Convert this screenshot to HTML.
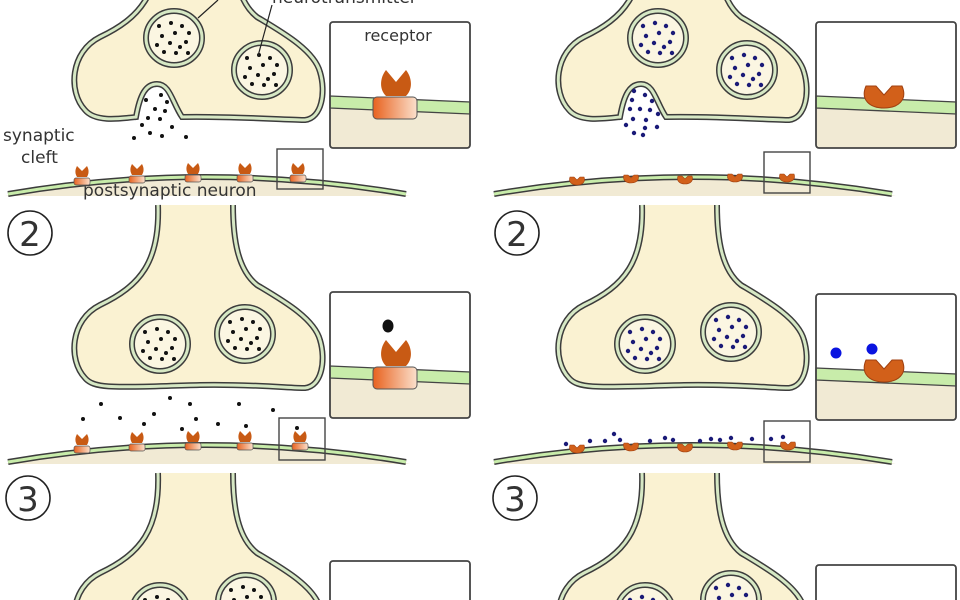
<!DOCTYPE html>
<html><head><meta charset="utf-8"><style>
html,body{margin:0;padding:0;background:#fff;width:960px;height:600px;overflow:hidden}
svg{display:block}
text{font-family:"DejaVu Sans","Liberation Sans",sans-serif;fill:#333}
</style></head><body>
<svg width="960" height="600" viewBox="0 0 960 600" xmlns="http://www.w3.org/2000/svg">
<defs>
<linearGradient id="og" x1="0" x2="1"><stop offset="0" stop-color="#e8621f"/><stop offset="1" stop-color="#fbe0cc"/></linearGradient>
<path id="term" d="M158,205 C160,262 140,286 100,305 C70,320 68,360 85,378 C95,390 120,387 200,385 C250,384 290,388 305,388 C322,386 326,360 320,340 C314,318 282,300 257,285 C238,270 233,240 233,205"/>
<path id="termN" d="M158,190 L158,205 C160,262 140,286 100,305 C70,320 68,360 85,378 C95,390 118,387 136,385 C140,362 146,352 157,352 C170,352 172,370 182,385 C230,384 290,388 305,388 C322,386 326,360 320,340 C314,318 282,300 257,285 C238,270 233,240 233,205 L233,190"/>
<g id="T"><use href="#term" fill="#faf2d2" stroke="#3c3c3c" stroke-width="6"/><use href="#term" fill="none" stroke="#d6e8c4" stroke-width="3"/></g>
<g id="TN"><use href="#termN" fill="#faf2d2" stroke="#3c3c3c" stroke-width="6"/><use href="#termN" fill="none" stroke="#d6e8c4" stroke-width="3"/></g>
<g id="ves"><ellipse rx="28" ry="27" fill="#fbf6e2" stroke="#3c3c3c" stroke-width="6"/><ellipse rx="28" ry="27" fill="none" stroke="#d6e8c4" stroke-width="3"/></g>
<g id="dk"><use href="#ves"/><g fill="#111"><circle cx="-15" cy="-12" r="2"/><circle cx="-3" cy="-15" r="2"/><circle cx="8" cy="-12" r="2"/><circle cx="15" cy="-5" r="2"/><circle cx="-12" cy="-2" r="2"/><circle cx="1" cy="-5" r="2"/><circle cx="12" cy="4" r="2"/><circle cx="-17" cy="7" r="2"/><circle cx="-4" cy="5" r="2"/><circle cx="6" cy="9" r="2"/><circle cx="-10" cy="14" r="2"/><circle cx="2" cy="15" r="2"/><circle cx="14" cy="15" r="2"/></g></g>
<g id="bl"><use href="#ves"/><g fill="#1a1a78"><circle cx="-15" cy="-12" r="2.2"/><circle cx="-3" cy="-15" r="2.2"/><circle cx="8" cy="-12" r="2.2"/><circle cx="15" cy="-5" r="2.2"/><circle cx="-12" cy="-2" r="2.2"/><circle cx="1" cy="-5" r="2.2"/><circle cx="12" cy="4" r="2.2"/><circle cx="-17" cy="7" r="2.2"/><circle cx="-4" cy="5" r="2.2"/><circle cx="6" cy="9" r="2.2"/><circle cx="-10" cy="14" r="2.2"/><circle cx="2" cy="15" r="2.2"/><circle cx="14" cy="15" r="2.2"/></g></g>
<g id="post"><path d="M5,198 Q205,160 410,198 Z" fill="#f1ead4"/><path d="M8,196 Q205,162 406,196" fill="none" stroke="#3c3c3c" stroke-width="6"/><path d="M8,196 Q205,162 406,196" fill="none" stroke="#c8ecaa" stroke-width="3"/></g>
<g id="rc"><rect x="-8" y="-3" width="16" height="7" rx="2" fill="url(#og)" stroke="#555" stroke-width=".7"/><path d="M-5,-4 C-8,-9 -6,-13 -5,-15 L0,-10 L5,-15 C6,-13 8,-9 5,-4 Z" fill="#c85a14"/></g>
<path id="rr" d="M-7,-3 L-3,-3 L0,0 L3,-3 L7,-3 C9,2 5,5 0,5 C-5,5 -9,2 -7,-3 Z" fill="#d2601a" stroke="#a04010" stroke-width=".6"/>
<g id="insetL"><rect x="0" y="0" width="140" height="126" rx="3" fill="#fff"/><path d="M0,80 L140,88 L140,126 L0,126 Z" fill="#f1ead4"/><path d="M0,74 L140,80 L140,92 L0,86 Z" fill="#c8ecaa" stroke="#444" stroke-width="1.3"/><rect x="0" y="0" width="140" height="126" rx="3" fill="none" stroke="#444" stroke-width="1.8"/></g>
</defs>

<!-- LEFT ROW 1 -->
<g transform="translate(0,-268)"><use href="#TN"/></g>
<use href="#dk" x="174" y="38"/><use href="#dk" x="262" y="70"/>
<g fill="#111"><circle cx="146" cy="100" r="2"/><circle cx="161" cy="95" r="2"/><circle cx="167" cy="102" r="2"/><circle cx="155" cy="109" r="2"/><circle cx="165" cy="111" r="2"/><circle cx="148" cy="118" r="2"/><circle cx="160" cy="119" r="2"/><circle cx="142" cy="125" r="2"/><circle cx="172" cy="127" r="2"/><circle cx="150" cy="133" r="2"/><circle cx="162" cy="136" r="2"/><circle cx="134" cy="138" r="2"/><circle cx="186" cy="137" r="2"/></g>
<line x1="198" y1="18" x2="218" y2="0" stroke="#222" stroke-width="1.2"/>
<line x1="258" y1="56" x2="272" y2="5" stroke="#222" stroke-width="1.2"/>
<text x="272" y="3" font-size="17">neurotransmitter</text>
<g transform="translate(0,-2)"><use href="#post"/></g>
<use href="#rc" x="82" y="181"/><use href="#rc" x="137" y="179"/><use href="#rc" x="193" y="178"/><use href="#rc" x="245" y="178"/><use href="#rc" x="298" y="178"/>
<rect x="277" y="149" width="46" height="40" fill="none" stroke="#444" stroke-width="1.4"/>
<text x="3" y="141" font-size="17">synaptic</text><text x="21" y="163" font-size="17">cleft</text>
<text x="83" y="196" font-size="17">postsynaptic neuron</text>
<g transform="translate(330,22)"><use href="#insetL"/></g>
<text x="398" y="41" font-size="16" text-anchor="middle">receptor</text>
<rect x="373" y="97" width="44" height="22" rx="4" fill="url(#og)" stroke="#555"/>
<path d="M386,96 C378,88 381,76 386,70 L396,82 L406,70 C411,76 414,88 406,96 Z" fill="#c85a14"/>

<!-- RIGHT ROW 1 -->
<g transform="translate(484,-268)"><use href="#TN"/></g>
<use href="#bl" x="658" y="38"/><use href="#bl" x="747" y="70"/>
<g fill="#1a1a78"><circle cx="634" cy="91" r="2.2"/><circle cx="645" cy="95" r="2.2"/><circle cx="632" cy="100" r="2.2"/><circle cx="652" cy="101" r="2.2"/><circle cx="630" cy="109" r="2.2"/><circle cx="640" cy="109" r="2.2"/><circle cx="650" cy="110" r="2.2"/><circle cx="658" cy="114" r="2.2"/><circle cx="633" cy="119" r="2.2"/><circle cx="646" cy="120" r="2.2"/><circle cx="626" cy="125" r="2.2"/><circle cx="645" cy="128" r="2.2"/><circle cx="657" cy="127" r="2.2"/><circle cx="634" cy="133" r="2.2"/><circle cx="643" cy="135" r="2.2"/></g>
<g transform="translate(486,-2)"><use href="#post"/></g>
<use href="#rr" x="577" y="180"/><use href="#rr" x="631" y="178"/><use href="#rr" x="685" y="179"/><use href="#rr" x="735" y="177"/><use href="#rr" x="787" y="177"/>
<rect x="764" y="152" width="46" height="41" fill="none" stroke="#444" stroke-width="1.4"/>
<g transform="translate(816,22)"><use href="#insetL"/></g>
<path d="M866,86 L876,86 L884,95 L892,86 L902,86 C908,100 898,108 884,108 C870,108 860,100 866,86 Z" fill="#d2601a" stroke="#a04010"/>

<!-- LEFT ROW 2 -->
<circle cx="30" cy="233" r="22" fill="#fff" stroke="#222" stroke-width="1.6"/><text x="30" y="246" font-size="34" text-anchor="middle" fill="#111">2</text>
<use href="#T"/>
<use href="#dk" x="160" y="344"/><use href="#dk" x="245" y="334"/>
<g fill="#111"><circle cx="83" cy="419" r="2"/><circle cx="101" cy="404" r="2"/><circle cx="120" cy="418" r="2"/><circle cx="144" cy="424" r="2"/><circle cx="154" cy="414" r="2"/><circle cx="170" cy="398" r="2"/><circle cx="190" cy="404" r="2"/><circle cx="196" cy="419" r="2"/><circle cx="182" cy="429" r="2"/><circle cx="218" cy="424" r="2"/><circle cx="239" cy="404" r="2"/><circle cx="246" cy="426" r="2"/><circle cx="273" cy="410" r="2"/><circle cx="297" cy="428" r="2"/></g>
<g transform="translate(0,266)"><use href="#post"/></g>
<use href="#rc" x="82" y="449"/><use href="#rc" x="137" y="447"/><use href="#rc" x="193" y="446"/><use href="#rc" x="245" y="446"/><use href="#rc" x="300" y="446"/>
<rect x="279" y="418" width="46" height="42" fill="none" stroke="#444" stroke-width="1.4"/>
<g transform="translate(330,292)"><use href="#insetL"/></g>
<rect x="373" y="367" width="44" height="22" rx="4" fill="url(#og)" stroke="#555"/>
<path d="M386,366 C378,358 381,346 386,340 L396,352 L406,340 C411,346 414,358 406,366 Z" fill="#c85a14"/>
<ellipse cx="388" cy="326" rx="5.5" ry="6.5" fill="#111"/>

<!-- RIGHT ROW 2 -->
<circle cx="517" cy="233" r="22" fill="#fff" stroke="#222" stroke-width="1.6"/><text x="517" y="246" font-size="34" text-anchor="middle" fill="#111">2</text>
<g transform="translate(484,0)"><use href="#T"/></g>
<use href="#bl" x="645" y="344"/><use href="#bl" x="731" y="332"/>
<g transform="translate(486,266)"><use href="#post"/></g>
<g fill="#1a1a78"><circle cx="566" cy="444" r="2.2"/><circle cx="590" cy="441" r="2.2"/><circle cx="605" cy="441" r="2.2"/><circle cx="614" cy="434" r="2.2"/><circle cx="620" cy="440" r="2.2"/><circle cx="650" cy="441" r="2.2"/><circle cx="665" cy="438" r="2.2"/><circle cx="673" cy="440" r="2.2"/><circle cx="700" cy="441" r="2.2"/><circle cx="711" cy="439" r="2.2"/><circle cx="720" cy="440" r="2.2"/><circle cx="731" cy="438" r="2.2"/><circle cx="752" cy="439" r="2.2"/><circle cx="771" cy="439" r="2.2"/><circle cx="783" cy="437" r="2.2"/></g>
<use href="#rr" x="577" y="448"/><use href="#rr" x="631" y="446"/><use href="#rr" x="685" y="447"/><use href="#rr" x="735" y="445"/><use href="#rr" x="788" y="445"/>
<rect x="764" y="421" width="46" height="41" fill="none" stroke="#444" stroke-width="1.4"/>
<g transform="translate(816,294)"><use href="#insetL"/></g>
<path d="M866,360 L876,360 L884,369 L892,360 L902,360 C908,374 898,382 884,382 C870,382 860,374 866,360 Z" fill="#d2601a" stroke="#a04010"/>
<circle cx="836" cy="353" r="5.5" fill="#0a14e0"/><circle cx="872" cy="349" r="5.5" fill="#0a14e0"/>

<!-- ROW 3 -->
<circle cx="28" cy="498" r="22" fill="#fff" stroke="#222" stroke-width="1.6"/><text x="28" y="511" font-size="34" text-anchor="middle" fill="#111">3</text>
<g transform="translate(0,268)"><use href="#T"/></g>
<use href="#dk" x="160" y="612"/><use href="#dk" x="246" y="602"/>
<rect x="330" y="561" width="140" height="60" rx="3" fill="#fff" stroke="#444" stroke-width="1.8"/>
<circle cx="515" cy="498" r="22" fill="#fff" stroke="#222" stroke-width="1.6"/><text x="515" y="511" font-size="34" text-anchor="middle" fill="#111">3</text>
<g transform="translate(484,268)"><use href="#T"/></g>
<use href="#bl" x="645" y="612"/><use href="#bl" x="731" y="600"/>
<rect x="816" y="565" width="140" height="60" rx="3" fill="#fff" stroke="#444" stroke-width="1.8"/>
</svg>
</body></html>
